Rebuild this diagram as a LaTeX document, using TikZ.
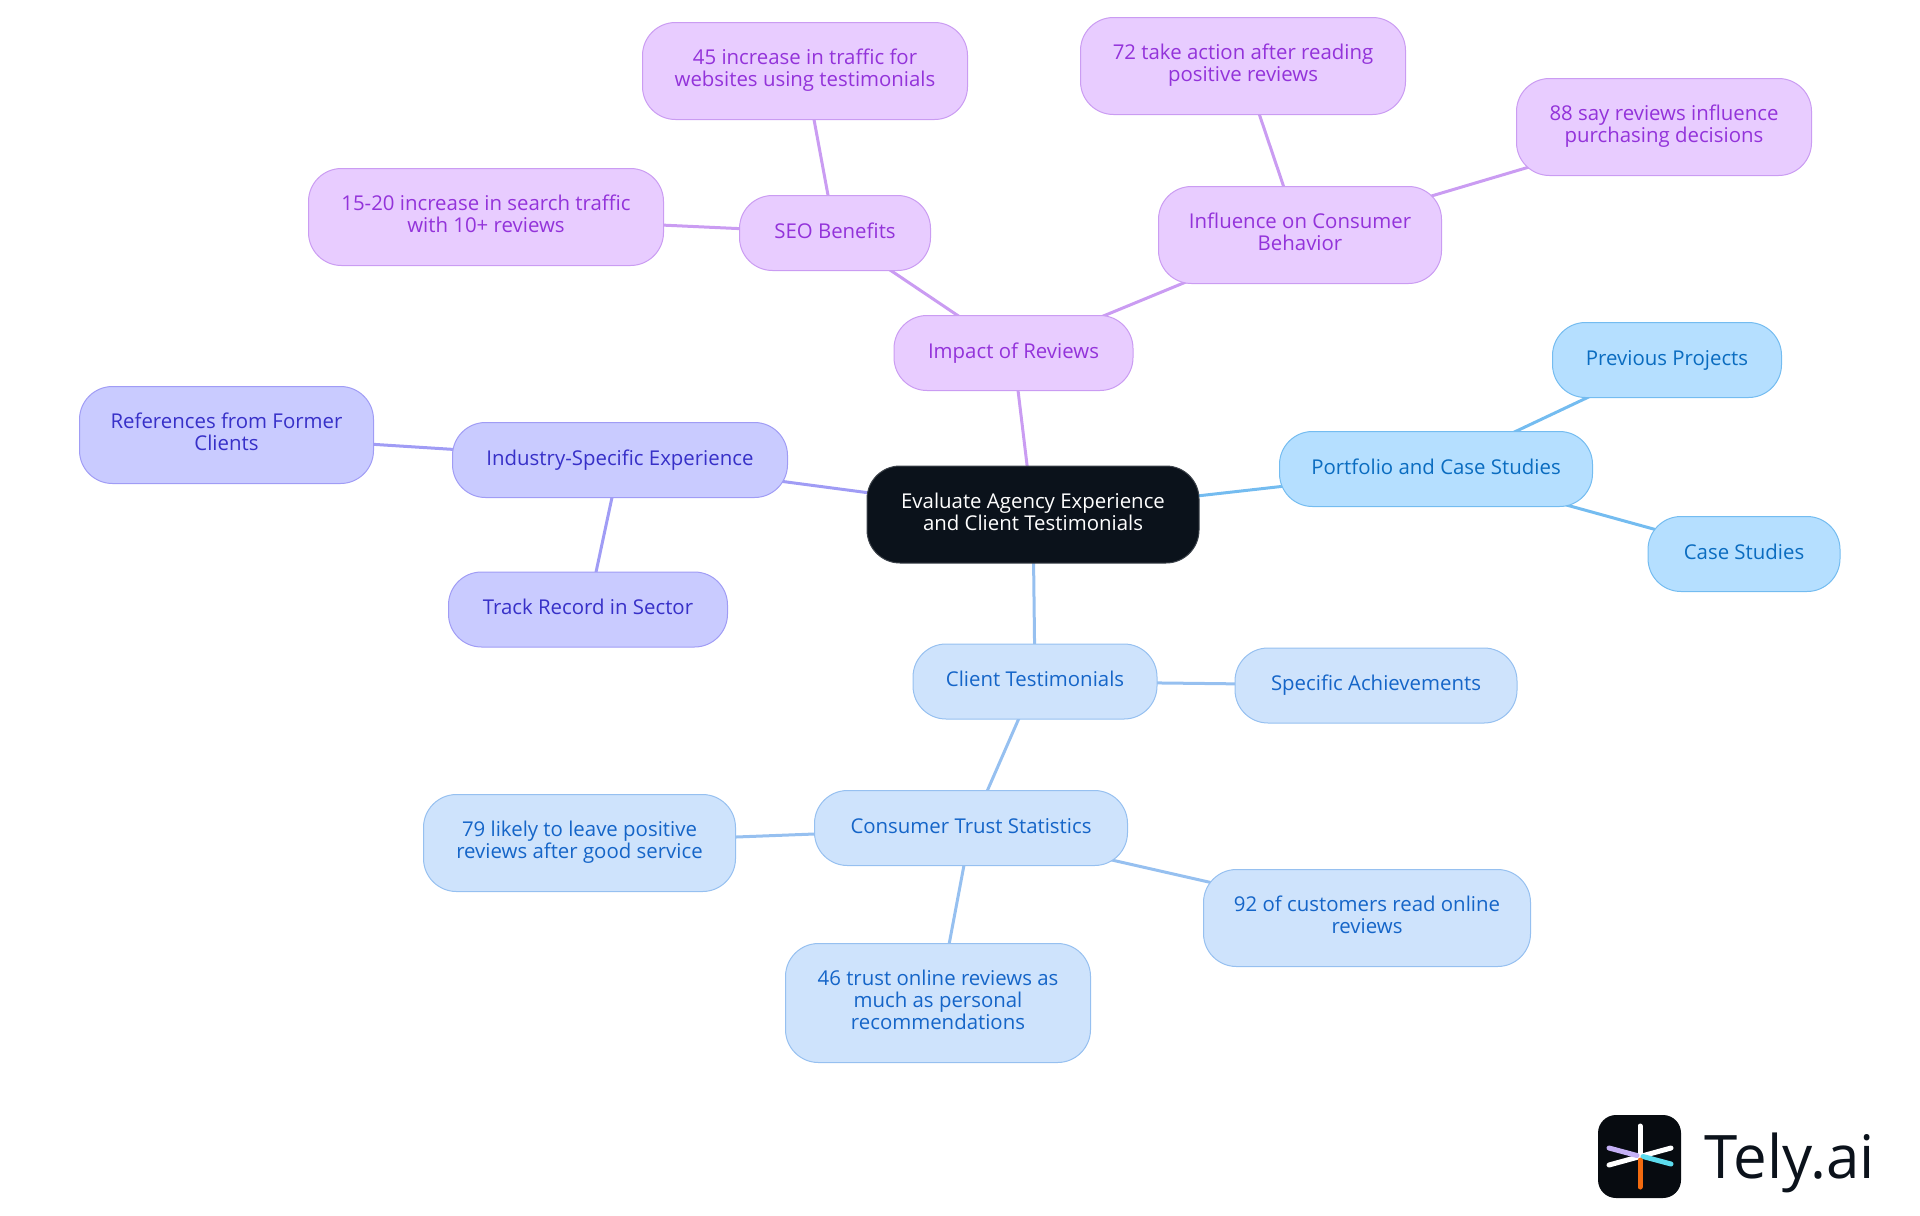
\documentclass[tikz,border=0pt]{standalone}
\usepackage{fontspec}
\setmainfont{Open Sans}
\usetikzlibrary{backgrounds}
\definecolor{rootfill}{HTML}{0B121B}
\definecolor{rootline}{HTML}{3C424A}
\definecolor{purplefill}{HTML}{E8CCFF}
\definecolor{purpleline}{HTML}{CA9CF2}
\definecolor{purpletext}{HTML}{9333DA}
\definecolor{skyfill}{HTML}{B5DFFF}
\definecolor{skyline}{HTML}{74BCF0}
\definecolor{skytext}{HTML}{0A6CC0}
\definecolor{bluefill}{HTML}{CEE3FC}
\definecolor{blueline}{HTML}{96C0F0}
\definecolor{bluetext}{HTML}{1565C8}
\definecolor{indigofill}{HTML}{C9CBFF}
\definecolor{indigoline}{HTML}{A09CF5}
\definecolor{indigotext}{HTML}{3730C8}
\definecolor{spokepurple}{HTML}{C4B0F5}
\definecolor{spokecyan}{HTML}{5CDCEE}
\definecolor{spokeorange}{HTML}{F26A0F}

\begin{document}
\begin{tikzpicture}[x=0.5pt, y=-0.5pt,
	box/.style={draw, line width=0.5pt, rounded corners=16.5pt, inner sep=0pt, align=center,
		font=\fontsize{10.2}{11}\selectfont,
		execute at end node=\rule[-2.85pt]{0pt}{2.85pt}},
	rootbox/.style={box, fill=rootfill, draw=rootline, text=white},
	purplebox/.style={box, fill=purplefill, draw=purpleline, text=purpletext},
	skybox/.style={box, fill=skyfill, draw=skyline, text=skytext},
	bluebox/.style={box, fill=bluefill, draw=blueline, text=bluetext},
	indigobox/.style={box, fill=indigofill, draw=indigoline, text=indigotext},
	one/.style={minimum height=37.5pt, execute at begin node=\rule{0pt}{8.15pt}},
	two/.style={minimum height=48.5pt, execute at begin node=\rule{0pt}{9.4pt}},
	three/.style={minimum height=59.5pt, execute at begin node=\rule{0pt}{9.4pt}},
	wide/.style={minimum width=#1*0.5pt},
	edge/.style={line width=1.5pt}]
	\useasboundingbox (0,0) rectangle (1920,1215);
	% centre
	\node [rootbox, two, wide=332] (root) at (1033,514.5) {Evaluate Agency Experience\\and Client Testimonials};
	% impact of reviews
	\node [purplebox, one, wide=239] (impact) at (1013.5,353) {Impact of Reviews};
	\node [purplebox, one, wide=191] (seo) at (835,233) {SEO Benefits};
	\node [purplebox, two, wide=283] (influence) at (1300,235) {Influence on Consumer\\Behavior};
	\node [purplebox, two, wide=325] (traffic) at (805,71) {45 increase in traffic for\\websites using testimonials};
	\node [purplebox, two, wide=355] (search) at (486,217) {15-20 increase in search traffic\\with 10+ reviews};
	\node [purplebox, two, wide=325] (action) at (1243,66) {72 take action after reading\\positive reviews};
	\node [purplebox, two, wide=295] (decisions) at (1664,127) {88 say reviews influence\\purchasing decisions};
	% portfolio
	\node [skybox, one, wide=313] (portfolio) at (1436,469) {Portfolio and Case Studies};
	\node [skybox, one, wide=229] (projects) at (1667,360) {Previous Projects};
	\node [skybox, one, wide=192] (cases) at (1744,554) {Case Studies};
	% client testimonials
	\node [bluebox, one, wide=244] (client) at (1035,681.5) {Client Testimonials};
	\node [bluebox, one, wide=282] (achievements) at (1376,685.5) {Specific Achievements};
	\node [bluebox, one, wide=313] (trust) at (971,828) {Consumer Trust Statistics};
	\node [bluebox, two, wide=312] (likely) at (579.5,843) {79 likely to leave positive\\reviews after good service};
	\node [bluebox, two, wide=327] (read) at (1367,918) {92 of customers read online\\reviews};
	\node [bluebox, three, wide=305] (personal) at (938,1003) {46 trust online reviews as\\much as personal\\recommendations};
	% industry
	\node [indigobox, one, wide=335] (industry) at (620,460) {Industry-Specific Experience};
	\node [indigobox, two, wide=294] (former) at (226.5,435) {References from Former\\Clients};
	\node [indigobox, one, wide=279] (track) at (588,609.5) {Track Record in Sector};
	% connectors
	\begin{pgfonlayer}{background}
		\foreach \a/\b in {root/impact, impact/seo, impact/influence, seo/traffic, seo/search, influence/action, influence/decisions}
			\draw [edge, purpleline] (\a.center) -- (\b.center);
		\foreach \a/\b in {root/portfolio, portfolio/projects, portfolio/cases}
			\draw [edge, skyline] (\a.center) -- (\b.center);
		\foreach \a/\b in {root/client, client/achievements, client/trust, trust/likely, trust/read, trust/personal}
			\draw [edge, blueline] (\a.center) -- (\b.center);
		\foreach \a/\b in {root/industry, industry/former, industry/track}
			\draw [edge, indigoline] (\a.center) -- (\b.center);
	\end{pgfonlayer}
	% logo
	\fill [rootfill!60!black, rounded corners=9pt] (1598,1115) rectangle (1681,1198);
	\draw [white, line width=2.5pt, line cap=round] (1640,1155) -- (1640,1126);
	\draw [white, line width=2.5pt, line cap=round] (1609,1165) -- (1671,1148);
	\draw [spokepurple, line width=2.5pt, line cap=round] (1609,1148) -- (1637,1155.5);
	\draw [spokecyan, line width=2.5pt, line cap=round] (1643,1156.5) -- (1671,1164);
	\draw [spokeorange, line width=2.5pt, line cap=round] (1640,1160) -- (1640,1187);
	\node [text=rootfill, inner sep=0pt, anchor=base west, font=\fontsize{30}{30}\selectfont] (brand) at (1704,1178) {Tely.ai};
\end{tikzpicture}
\end{document}
